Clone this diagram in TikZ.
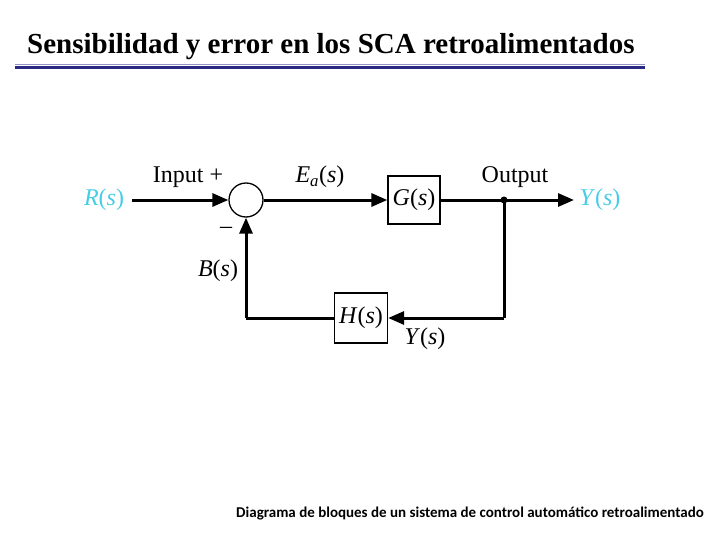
\documentclass[tikz,border=0pt]{standalone}
\usepackage{fontspec}
\setmainfont{Liberation Serif}
\newfontfamily\capfont{Carlito}
\usetikzlibrary{arrows.meta}
\definecolor{navy}{RGB}{40,40,130}
\definecolor{cyanlab}{RGB}{70,205,230}
\newcommand{\fs}[1]{\textit{#1}(\textit{s})}
\begin{document}
\begin{tikzpicture}[x=1pt,y=-1pt,
  blk/.style={draw,line width=1.3pt,minimum width=52pt,minimum height=48pt,inner sep=0pt,font=\fontsize{24}{24}\selectfont},
  sig/.style={line width=3pt,-{Triangle[length=16pt,width=13pt]}},
  wire/.style={line width=3pt},
  lab/.style={font=\fontsize{24}{24}\selectfont,inner sep=0pt}]
\useasboundingbox (0,0) rectangle (728,546);
\node[anchor=west,inner sep=0pt,font=\fontsize{29}{29}\selectfont\bfseries] (title) at (27,47) {Sensibilidad y error en los SCA retroalimentados};
\draw[navy,line width=2.2pt] (15,67.5) -- (645,67.5);
\draw[navy!50,line width=0.6pt] (15,64.5) -- (645,64.5);
\node[draw,circle,line width=1.3pt,minimum size=34pt,inner sep=0pt] (sum) at (246,200) {};
\node[blk] (G) at (414,200) {\fs{G}};
\node[blk,minimum width=53pt,minimum height=50pt] (H) at (361,318) {\fs{H}};
\node[lab,text=cyanlab] (R) at (104,200) {\fs{R}};
\node[lab,text=cyanlab] (Y) at (600,200) {\fs{Y}};
\coordinate (r0) at (132,200);
\coordinate (j) at (504,200);
\coordinate (jb) at (504,318);
\coordinate (lb) at (246,318);
\coordinate (yend) at (574,200);
\fill (j) circle (3.5pt);
\draw[sig] (r0) -- (sum.west);
\draw[sig] (sum.east) -- (G.west);
\draw[wire] (G.east) -- (j);
\draw[sig] (j) -- (yend);
\draw[wire] (j) -- (jb);
\draw[sig] (jb) -- (H.east);
\draw[wire] (H.west) -- (lb);
\draw[sig] (lb) -- (sum.south);
\node[lab] (inp) at (188,177) {Input +};
\node[lab] (ea) at (320,177) {\textit{E}\textsubscript{\textit{a}}(\textit{s})};
\node[lab] (out) at (515,177) {Output};
\node[lab] (minus) at (226,230) {--};
\node[lab] (B) at (218,271) {\fs{B}};
\node[lab] (Yb) at (425,339) {\fs{Y}};
\node[anchor=east,inner sep=0pt,font=\capfont\fontsize{15}{15}\selectfont\bfseries] (cap) at (704,513) {Diagrama de bloques de un sistema de control automático retroalimentado};
\end{tikzpicture}
\end{document}
